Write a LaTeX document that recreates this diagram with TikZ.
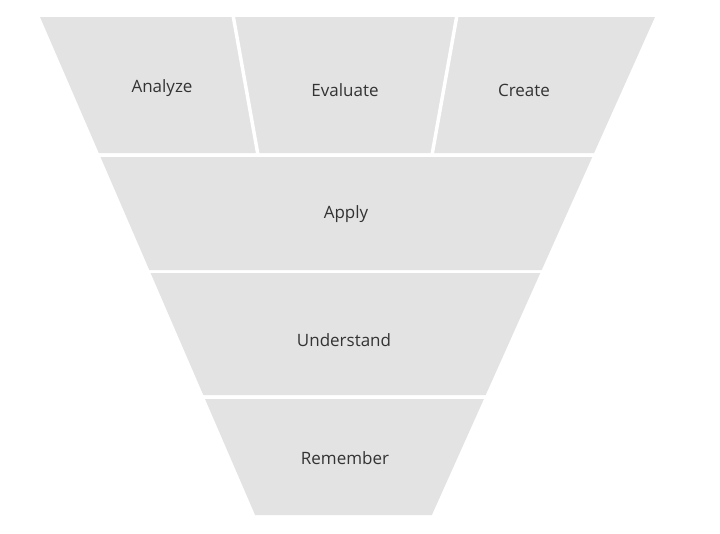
\documentclass[tikz,border=0pt]{standalone}
\usepackage{fontspec}
\setmainfont{Open Sans}
\definecolor{seg}{HTML}{E3E3E4}
\definecolor{txt}{HTML}{333333}
\begin{document}
\begin{tikzpicture}[x=1pt,y=-1pt,
  segment/.style={fill=seg},
  divider/.style={draw=white,line width=3.5pt},
  lab/.style={text=txt,font=\fontsize{17}{20}\selectfont}]
\useasboundingbox (0,0) rectangle (720,533);
\fill[segment] (40,17) -- (655,17) -- (594.1,153) -- (98.8,153) -- cycle;
\draw[divider] (233,15) -- (258,155);
\draw[divider] (457,15) -- (432,155);
\fill[segment] (100.5,157) -- (592.3,157) -- (541.7,270) -- (149.3,270) -- cycle;
\fill[segment] (150.6,273) -- (540.3,273) -- (485.7,395) -- (203.3,395) -- cycle;
\fill[segment] (205.0,399) -- (483.9,399) -- (431.9,515) -- (255.1,515) -- cycle;
\node[lab] (analyze) at (162,88) {Analyze};
\node[lab] (evaluate) at (345,90) {Evaluate};
\node[lab] (create) at (524,90) {Create};
\node[lab] (apply) at (346,214) {Apply};
\node[lab] (understand) at (344,340) {Understand};
\node[lab] (remember) at (345,458) {Remember};
\end{tikzpicture}
\end{document}
